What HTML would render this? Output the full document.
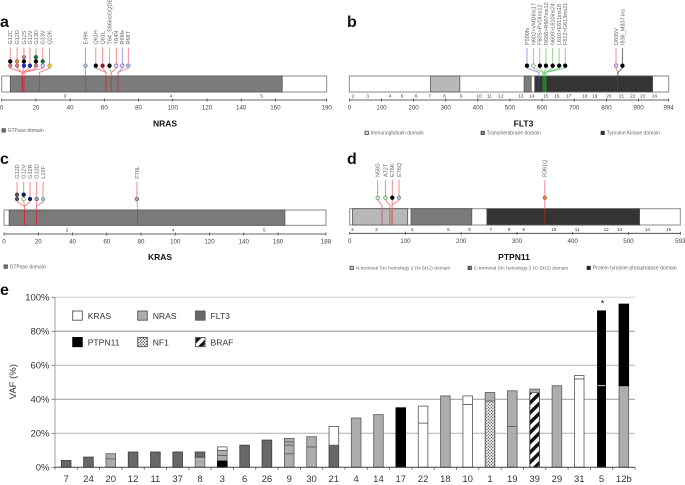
<!DOCTYPE html>
<html lang="en">
<head>
<meta charset="utf-8">
<title>Mutation maps and VAF chart</title>
<style>
html,body{margin:0;padding:0;background:#fff;}
svg{display:block;font-family:"Liberation Sans",Arial,sans-serif;}
</style>
</head>
<body>
<svg id="figure" width="685" height="485" viewBox="0 0 685 485" xmlns="http://www.w3.org/2000/svg">
  <defs>
    <pattern id="dots" patternUnits="userSpaceOnUse" width="3" height="3">
      <rect width="3" height="3" fill="#fff"/>
      <circle cx="0.8" cy="0.8" r="0.65" fill="#333"/>
      <circle cx="2.3" cy="2.3" r="0.65" fill="#333"/>
    </pattern>
    <pattern id="stripes" patternUnits="userSpaceOnUse" width="7" height="7" patternTransform="rotate(45)">
      <rect width="7" height="7" fill="#fff"/>
      <rect width="3.4" height="7" fill="#111"/>
    </pattern>
  </defs>
  <text x="0" y="27" font-size="16" font-weight="bold" fill="#111">a</text>
  <text x="347" y="27" font-size="16" font-weight="bold" fill="#111">b</text>
  <text x="0" y="164" font-size="16" font-weight="bold" fill="#111">c</text>
  <text x="347" y="164" font-size="16" font-weight="bold" fill="#111">d</text>
  <text x="0" y="295" font-size="16" font-weight="bold" fill="#111">e</text>
</svg>
<script>
// ---------- Panel a: NRAS ----------
const nrasLabels = ["G12C","G12D","G12S","G12V","G13D","G13V","Q22K","E49K","Q61H","Q61L","T64_S66insGQDE","Y64N","R68fs","R68T"];
const nrasResidues = [12,12,12,12,13,13,22,49,61,61,64,64,68,68];
const nrasHeads = [["salmon","black"],["salmon","orange"],["blue","black","mauve"],["blue"],["salmon","black","green"],["purple","green"],["yellow"],["sky"],["black"],["maroon"],["black"],["purple"],["purple"],["sky"]];
const nrasStems = ["red","red","red","red","red","red","red","red","red","red","lime","red","violet","red"];
const nrasShifts = [-7,-3,1,4.5,7,11,6,0,-6,-2,-1,3,2.5,6];
const nrasTicks = [0,20,40,60,80,100,120,140,160,190];
const nrasExons = ["3","4","5"];
const nrasExonStarts = [37,99,152];

// ---------- Panel b: FLT3 ----------
const flt3Labels = ["P590fs","N602>VMDIns17","F605>PVDIns12","R606>R607ins12","N609>L610ins24","L610>E611ins18","F612>G613ins21","D835V","I836_M837 ins"];
const flt3Residues = [590,602,605,606,609,610,612,835,836];
const flt3Heads = [["black"],["white"],["black"],["black"],["black"],["black"],["black"],["purple"],["black"]];
const flt3Stems = ["violet","lime","lime","lime","lime","lime","lime","red","slate"];
const flt3Shifts = [-37,-29,-12,6,24,43,60,-5,14];
const flt3Ticks = [0,100,200,300,400,500,600,700,800,900,994];
const flt3Exons = ["2","3","4","5","6","7","8","9","10","11","12","13","14","15","16","17","18","19","20","21","22","23","24"];
const flt3ExonStarts = [12,57,127,164,208,250,296,348,404,436,472,534,568,612,646,683,733,764,808,847,882,913,950];

// ---------- Panel c: KRAS ----------
const krasLabels = ["G12D","G12V","G12R","G13D","L19F","F78L"];
const krasResidues = [12,12,12,19,19,78];
const krasHeads = [["ash","ash"],["white","navy"],["navy"],["ring"],["sky"],["ring"]];
const krasStems = ["red","red","red","red","red","red"];
const krasShifts = [-4.4,-0.5,3.2,0.1,3.8,-0.4];
const krasTicks = [0,20,40,60,80,100,120,140,160,188];
const krasExons = ["2","4","5"];
const krasExonStarts = [36.8,98.7,152];

// ---------- Panel d: PTPN11 ----------
const ptpnLabels = ["N58S","A72T","E76K","E76Q","R361Q"];
const ptpnResidues = [58,72,76,76,350];
const ptpnHeads = [["mint"],["mint"],["black"],["sky"],["orange"]];
const ptpnStems = ["red","red","red","red","red"];
const ptpnShifts = [-7.8,-8,0.4,12.4,0];
const ptpnTicks = [0,100,200,300,400,500,593];
const ptpnExons = ["2","3","4","5","6","7","8","9","10","11","12","13","14","15"];
const ptpnExonStarts = [5,48,112,177,215,253,286,312,366,408,460,484,534,572];

// ---------- Panel e: VAF stacked bars ----------
const vafCategories = ["7","24","20","12","11","37","8","3","6","26","9","30","21","4","14","17","22","18","10","1","19","39","29","31","5","12b"];
const vafValues = [[4],[6],[5,3],[9],[9],[9],[6,3],[4,3,3,2],[13],[16],[8,5,2,2],[12,6],[13,11],[29],[31],[35],[26,10],[42],[37,5],[39,5],[24,21],[44,2],[48],[52,2],[48,44],[48,48]];
const vafGenes = [["FLT3"],["FLT3"],["NRAS","NRAS"],["FLT3"],["FLT3"],["FLT3"],["NRAS","FLT3"],["PTPN11","NRAS","NRAS","KRAS"],["FLT3"],["FLT3"],["NRAS","NRAS","NRAS","NRAS"],["NRAS","NRAS"],["FLT3","KRAS"],["NRAS"],["NRAS"],["PTPN11"],["KRAS","KRAS"],["NRAS"],["KRAS","KRAS"],["NF1","NRAS"],["NRAS","NRAS"],["BRAF","NRAS"],["NRAS"],["KRAS","KRAS"],["PTPN11","PTPN11"],["NRAS","PTPN11"]];
const vafTicks = [0,20,40,60,80,100];
const legendGenes = ["KRAS","NRAS","FLT3","PTPN11","NF1","BRAF"];

// ---------- Styling and layout ----------
const headFill = {salmon:"#d9787f",black:"#000",orange:"#d9893b",blue:"#1c2fa8",mauve:"#c97f94",green:"#1f6b35",purple:"#e5d3ec",yellow:"#e2cf3c",sky:"#a9c4dc",maroon:"#8a1f2c",white:"#fff",ash:"#555",navy:"#101a5c",ring:"#aaa",mint:"#cfe8cf"};
const headStroke = {salmon:"#a66",black:"#000",orange:"#a86a2a",blue:"#1c2fa8",mauve:"#a66",green:"#1f6b35",purple:"#8a5aa8",yellow:"#a08f20",sky:"#6f8ba8",maroon:"#8a1f2c",white:"#5a9a5a",ash:"#444",navy:"#101a5c",ring:"#555",mint:"#5a9a5a"};
const stemColor = {red:"#ee8088",lime:"#86d086",violet:"#9a8fdc",slate:"#666"};
const stemInBar = {red:"rgba(225,30,45,0.62)",lime:"rgba(30,170,50,0.55)",violet:"rgba(90,50,190,0.6)",slate:"rgba(60,60,60,0.7)"};
const geneFill = {KRAS:"#fff",NRAS:"#adadad",FLT3:"#686868",PTPN11:"#000",NF1:"url(#dots)",BRAF:"url(#stripes)"};
const geneStroke = {KRAS:"#666",NRAS:"#666",FLT3:"#444",PTPN11:"#000",NF1:"#555",BRAF:"#333"};
const svg = document.getElementById("figure");
const NS = "http://www.w3.org/2000/svg";

function mk(parent, tag, attrs, text) {
  const el = document.createElementNS(NS, tag);
  for (const k in attrs) el.setAttribute(k, attrs[k]);
  if (text !== undefined) el.textContent = text;
  parent.appendChild(el);
  return el;
}

function drawProtein(p) {
  const x = r => p.x0 + (r - p.min) * (p.x1 - p.x0) / (p.max - p.min);
  const g = mk(svg, "g", {});
  
  

  const track = mk(g, "rect", {x: x(p.min), y: p.barTop, width: p.x1 - p.x0, height: p.barH, fill: "#fff", stroke: "#8a8a8a", "stroke-width": 1});
  
  

  p.domains.forEach(d => {
    const rect = mk(g, "rect", {x: x(d.from), y: p.barTop, width: x(d.to) - x(d.from), height: p.barH, fill: d.fill, stroke: "#555", "stroke-width": 0.8});
    
    
  });

  p.labels.forEach((label, i) => {
    const hx = x(p.residues[i] + p.shifts[i]);
    const rx = x(p.residues[i]);
    const stem = mk(g, "polyline", {
      points: [hx + "," + p.stemTop, hx + "," + (p.headY + 2.5), rx + "," + (p.barTop - 3.5), rx + "," + p.barTop].join(" "),
      fill: "none", stroke: stemColor[p.stems[i]], "stroke-width": 0.9
    });
    
    

    const inBar = mk(g, "line", {x1: rx, x2: rx, y1: p.barTop, y2: p.barTop + p.barH, stroke: stemInBar[p.stems[i]], "stroke-width": 0.9});
    
    

    const ly = p.stemTop - 3;
    const t = mk(g, "text", {x: hx + 1.9, y: ly, "font-size": 5.5, fill: "#666", transform: "rotate(-90 " + (hx + 1.9) + " " + ly + ")"}, label);
    
    

    p.heads[i].forEach((h, j) => {
      const c = mk(g, "circle", {cx: hx, cy: p.headY - j * 4.3, r: 1.8, fill: headFill[h], stroke: headStroke[h], "stroke-width": 0.7});
      
      
    });
  });

  p.exons.forEach((label, i) => {
    const t = mk(g, "text", {x: x(p.exonStarts[i]), y: p.exonY, "font-size": 4.6, "text-anchor": "middle", fill: "#333"}, label);
    
    
  });

  const axis = mk(g, "line", {x1: p.x0, x2: p.x1, y1: p.axisY, y2: p.axisY, stroke: "#333", "stroke-width": 0.8});
  
  

  p.ticks.forEach(v => {
    const tick = mk(g, "line", {x1: x(v), x2: x(v), y1: p.axisY - 1.5, y2: p.axisY + 1.5, stroke: "#333", "stroke-width": 0.7});
    
    
    const t = mk(g, "text", {x: x(v), y: p.axisY + 9.5, "font-size": 6.2, "text-anchor": "middle", fill: "#444"}, v);
    
    
  });

  const title = mk(g, "text", {x: p.titleX, y: p.titleY, "font-size": 8.5, "font-weight": "bold", "text-anchor": "middle", fill: "#111"}, p.title);
  
  

  p.legend.forEach(l => {
    const sq = mk(g, "rect", {x: l.x, y: p.legendY - 1.8, width: 3.4, height: 3.4, fill: l.fill, stroke: "#333", "stroke-width": 0.7});
    
    
    const t = mk(g, "text", {x: l.x + 5.6, y: p.legendY + 1.7, "font-size": l.size || 5, fill: "#666"}, l.text);
    
    
  });
}

drawProtein({name:"nras", title:"NRAS", min:0, max:190, x0:1.7, x1:326.7, barTop:76, barH:16, headY:65.7, stemTop:47.5, axisY:100, exonY:97.6, titleX:165, titleY:126.5, legendY:130.5,
  labels:nrasLabels, residues:nrasResidues, heads:nrasHeads, stems:nrasStems, shifts:nrasShifts, ticks:nrasTicks, exons:nrasExons, exonStarts:nrasExonStarts,
  domains:[{from:5,to:164,fill:"#7b7b7b"}],
  legend:[{x:2,fill:"#777",text:"GTPase domain"}]});

drawProtein({name:"flt3", title:"FLT3", min:0, max:994, x0:349.3, x1:668.7, barTop:76, barH:16, headY:65.7, stemTop:48, axisY:100, exonY:97.4, titleX:523.5, titleY:126.5, legendY:133,
  labels:flt3Labels, residues:flt3Residues, heads:flt3Heads, stems:flt3Stems, shifts:flt3Shifts, ticks:flt3Ticks, exons:flt3Exons, exonStarts:flt3ExonStarts,
  domains:[{from:253,to:344,fill:"#b8b8b8"},{from:544,to:566,fill:"#7b7b7b"},{from:577,to:944,fill:"#343434"}],
  legend:[{x:365,fill:"#ddd",text:"Immunoglobulin domain"},{x:481,fill:"#888",text:"Transmembrane domain"},{x:601,fill:"#333",text:"Tyrosine Kinase domain"}]});

drawProtein({name:"kras", title:"KRAS", min:0, max:188, x0:4, x1:326, barTop:210, barH:15.3, headY:199, stemTop:181.7, axisY:234, exonY:231.5, titleX:160, titleY:260, legendY:266.7,
  labels:krasLabels, residues:krasResidues, heads:krasHeads, stems:krasStems, shifts:krasShifts, ticks:krasTicks, exons:krasExons, exonStarts:krasExonStarts,
  domains:[{from:3,to:164,fill:"#7b7b7b"}],
  legend:[{x:4,fill:"#777",text:"GTPase domain"}]});

drawProtein({name:"ptpn11", title:"PTPN11", min:0, max:593, x0:349.7, x1:680.3, barTop:208.7, barH:16.3, headY:197.7, stemTop:180, axisY:233.3, exonY:231, titleX:514, titleY:260, legendY:268,
  labels:ptpnLabels, residues:ptpnResidues, heads:ptpnHeads, stems:ptpnStems, shifts:ptpnShifts, ticks:ptpnTicks, exons:ptpnExons, exonStarts:ptpnExonStarts,
  domains:[{from:5,to:104,fill:"#b8b8b8"},{from:110,to:219,fill:"#7b7b7b"},{from:246,to:520,fill:"#343434"}],
  legend:[{x:350,fill:"#ccc",text:"N-terminal Src homology 2 (N-SH2) domain",size:4.9},{x:468,fill:"#777",text:"C-terminal Src homology 2 (C-SH2) domain",size:4.9},{x:587,fill:"#222",text:"Protein tyrosine phosphatase domain",size:5.1}]});

// ---------- Panel e ----------
(function () {
  const plotLeft = 55, plotRight = 635, plotBottom = 467.3, plotHeight = 170;
  const band = (plotRight - plotLeft) / vafCategories.length;
  const xBand = i => plotLeft + band * (i + 0.5);
  const y = v => plotBottom - v * plotHeight / 100;
  const g = mk(svg, "g", {});
  
  

  vafTicks.forEach(v => {
    if (v > 0) {
      const grid = mk(g, "line", {x1: plotLeft, x2: plotRight, y1: y(v), y2: y(v), stroke: v === 100 ? "#cfcfcf" : (v === 40 ? "#999" : "#b0b0b0"), "stroke-width": v === 80 ? 1.3 : 1});
      
      
    }
    const tick = mk(g, "line", {x1: plotLeft - 3.5, x2: plotLeft, y1: y(v), y2: y(v), stroke: "#666", "stroke-width": 0.8});
    
    
    const t = mk(g, "text", {x: plotLeft - 5.5, y: y(v) + 3.4, "font-size": 9.5, "text-anchor": "end", fill: "#333"}, v + "%");
    
    
  });

  const yAxis = mk(g, "line", {x1: plotLeft, x2: plotLeft, y1: y(100), y2: plotBottom, stroke: "#888", "stroke-width": 0.8});
  
  

  const yTitle = mk(g, "text", {x: 16, y: 381.7, "font-size": 9.5, "text-anchor": "middle", fill: "#333", transform: "rotate(-90 16 381.7)"}, "VAF (%)");
  
  

  vafCategories.forEach((cat, i) => {
    const w = cat === "5" ? 8 : 9.6;
    let cum = 0;
    vafValues[i].forEach((val, j) => {
      const gene = vafGenes[i][j];
      const r = mk(g, "rect", {x: xBand(i) - w / 2, y: y(cum + val), width: w, height: y(cum) - y(cum + val), fill: geneFill[gene], stroke: geneStroke[gene], "stroke-width": 0.9});
      
      
      cum += val;
    });
    if (cat === "5") {
      const gap = mk(g, "line", {x1: xBand(i) - w / 2, x2: xBand(i) + w / 2, y1: y(vafValues[i][0]), y2: y(vafValues[i][0]), stroke: "#fff", "stroke-width": 0.8});
      
      
      const star = mk(g, "text", {x: xBand(i) + 1, y: y(cum) - 4.5, "font-size": 9, "text-anchor": "middle", fill: "#111"}, "*");
      
      
    }
    const t = mk(g, "text", {x: xBand(i), y: 482.2, "font-size": 9.5, "text-anchor": "middle", fill: "#333"}, cat);
    
    
  });

  for (let i = 0; i <= vafCategories.length; i++) {
    const tick = mk(g, "line", {x1: plotLeft + band * i, x2: plotLeft + band * i, y1: plotBottom, y2: plotBottom + 2.5, stroke: "#555", "stroke-width": 0.8});
    
    
  }
  const xAxis = mk(g, "line", {x1: plotLeft, x2: plotRight, y1: plotBottom, y2: plotBottom, stroke: "#444", "stroke-width": 1});
  
  

  const colX = [72.7, 137.7, 195.5];
  legendGenes.forEach((gene, i) => {
    const bx = colX[i % 3], by = i < 3 ? 311 : 337.5;
    const sw = mk(g, "rect", {x: bx, y: by, width: 9.6, height: 9.2, fill: geneFill[gene], stroke: gene === "PTPN11" ? "#000" : "#555", "stroke-width": 0.9});
    
    
    const t = mk(g, "text", {x: bx + 15, y: by + 8, "font-size": 8.6, fill: "#333"}, gene);
    
    
  });
})();
</script>
</body>
</html>
